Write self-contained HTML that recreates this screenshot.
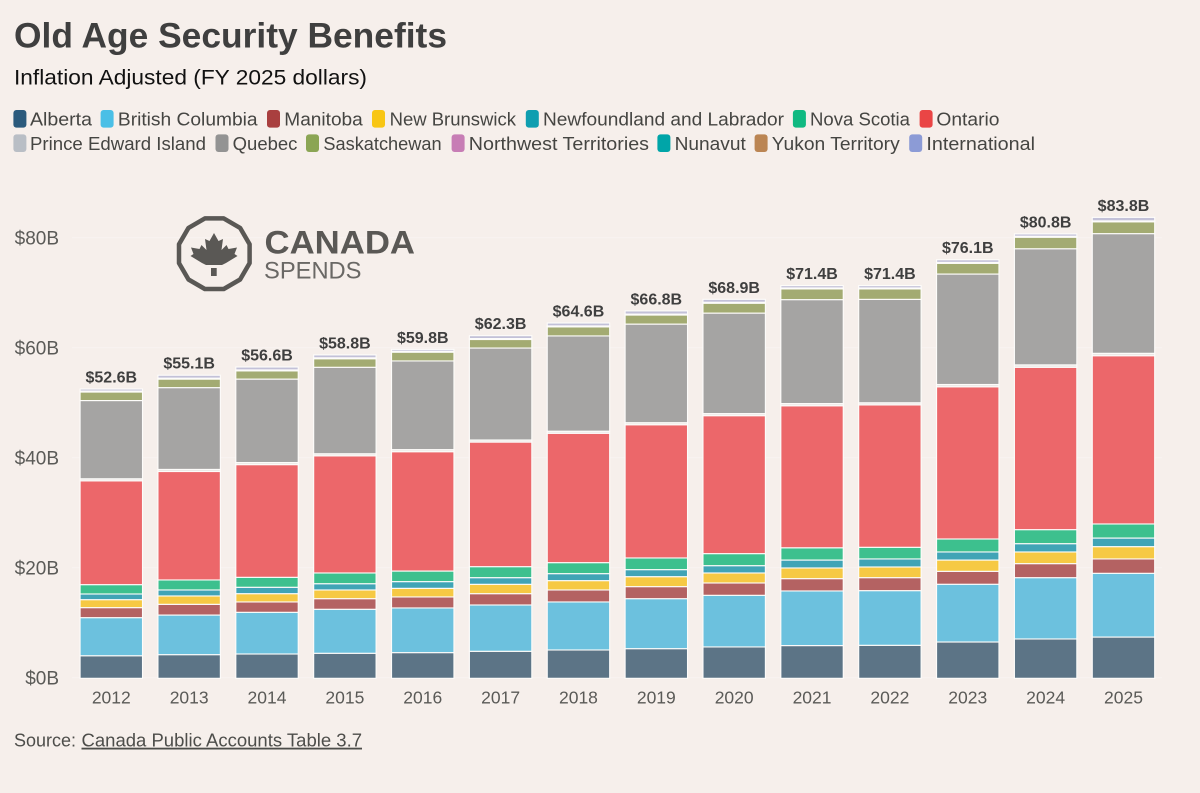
<!DOCTYPE html>
<html lang="en">
<head>
<meta charset="utf-8">
<title>Old Age Security Benefits</title>
<style>
html,body{margin:0;padding:0;background:#f6efeb;}
svg{display:block;font-family:"Liberation Sans",sans-serif;}
</style>
</head>
<body>
<svg id="chart" xmlns="http://www.w3.org/2000/svg" width="1200" height="793" viewBox="0 0 1200 793">
  <rect x="0" y="0" width="1200" height="793" fill="#f6efeb"/>
  <text x="14" y="47.5" font-size="35" font-weight="700" fill="#3f3f3f" textLength="433" lengthAdjust="spacingAndGlyphs">Old Age Security Benefits</text>
  <text x="14" y="84.7" font-size="21.5" fill="#111111" textLength="353" lengthAdjust="spacingAndGlyphs">Inflation Adjusted (FY 2025 dollars)</text>

  <g font-size="18" fill="#454542">
    <g><rect x="13.4" y="110" width="13" height="17.6" rx="3" fill="#2b5a7c"/><text x="30" y="125.3" textLength="62" lengthAdjust="spacingAndGlyphs">Alberta</text></g>
    <g><rect x="100.6" y="110" width="13" height="17.6" rx="3" fill="#4bbfe6"/><text x="117.9" y="125.3" textLength="139.7" lengthAdjust="spacingAndGlyphs">British Columbia</text></g>
    <g><rect x="267" y="110" width="13" height="17.6" rx="3" fill="#a93f3f"/><text x="284.3" y="125.3" textLength="78.5" lengthAdjust="spacingAndGlyphs">Manitoba</text></g>
    <g><rect x="372" y="110" width="13" height="17.6" rx="3" fill="#f8c614"/><text x="389.6" y="125.3" textLength="126.4" lengthAdjust="spacingAndGlyphs">New Brunswick</text></g>
    <g><rect x="525.8" y="110" width="13" height="17.6" rx="3" fill="#0f9eb0"/><text x="543" y="125.3" textLength="241" lengthAdjust="spacingAndGlyphs">Newfoundland and Labrador</text></g>
    <g><rect x="792.9" y="110" width="13" height="17.6" rx="3" fill="#10b981"/><text x="810" y="125.3" textLength="100" lengthAdjust="spacingAndGlyphs">Nova Scotia</text></g>
    <g><rect x="919.6" y="110" width="13" height="17.6" rx="3" fill="#ea4545"/><text x="936.4" y="125.3" textLength="63.1" lengthAdjust="spacingAndGlyphs">Ontario</text></g>
    <g><rect x="13.4" y="134.4" width="13" height="17.6" rx="3" fill="#b9bec5"/><text x="30" y="150" textLength="176" lengthAdjust="spacingAndGlyphs">Prince Edward Island</text></g>
    <g><rect x="215.5" y="134.4" width="13" height="17.6" rx="3" fill="#939393"/><text x="232.7" y="150" textLength="64.7" lengthAdjust="spacingAndGlyphs">Quebec</text></g>
    <g><rect x="306" y="134.4" width="13" height="17.6" rx="3" fill="#8ba554"/><text x="323.4" y="150" textLength="118.2" lengthAdjust="spacingAndGlyphs">Saskatchewan</text></g>
    <g><rect x="451.6" y="134.4" width="13" height="17.6" rx="3" fill="#c77db5"/><text x="468.8" y="150" textLength="180.2" lengthAdjust="spacingAndGlyphs">Northwest Territories</text></g>
    <g><rect x="657.4" y="134.4" width="13" height="17.6" rx="3" fill="#00a5a8"/><text x="674.6" y="150" textLength="71.2" lengthAdjust="spacingAndGlyphs">Nunavut</text></g>
    <g><rect x="754.6" y="134.4" width="13" height="17.6" rx="3" fill="#bb8553"/><text x="771.8" y="150" textLength="127.9" lengthAdjust="spacingAndGlyphs">Yukon Territory</text></g>
    <g><rect x="909.2" y="134.4" width="13" height="17.6" rx="3" fill="#8c9bd6"/><text x="926.4" y="150" textLength="108.6" lengthAdjust="spacingAndGlyphs">International</text></g>
  </g>

  <g id="grid"></g>

  <g fill="#5a5855">
    <polygon points="223.75,218.4 240.1,227.9 249.6,244.25 249.6,263.15 240.1,279.5 223.75,289 204.85,289 188.5,279.5 179,263.15 179,244.25 188.5,227.9 204.85,218.4" fill="none" stroke="#5a5855" stroke-width="4.5" stroke-linejoin="round"/>
    <path d="M214 233 L218.5 241 L223 239 L221.5 250 L226.5 245 L228.5 249 L237 247.5 L234.5 254 L237.5 256 L226 263 L222 265 L206 265 L202 263 L190.5 256 L193.5 254 L191 247.5 L199.5 249 L201.5 245 L206.5 250 L205 239 L209.5 241 Z"/>
    <rect x="211" y="268" width="5.7" height="8"/>
    <text x="264.5" y="253.3" font-size="32" font-weight="700" textLength="150.5" lengthAdjust="spacingAndGlyphs">CANADA</text>
    <text x="264" y="278.3" font-size="24" fill="#6a6865" textLength="97.5" lengthAdjust="spacingAndGlyphs">SPENDS</text>
  </g>

  <g id="bars"></g>
  <g id="ylabels"></g>
  <g id="xlabels"></g>
  <g id="totals"></g>

  <text x="14" y="746.7" font-size="18" fill="#4d4d4a" textLength="62" lengthAdjust="spacingAndGlyphs">Source:</text>
  <text x="81.5" y="746.7" font-size="18" fill="#4d4d4a" text-decoration="underline" textLength="280.5" lengthAdjust="spacingAndGlyphs">Canada Public Accounts Table 3.7</text>
</svg>

<script>
const years = ['2012','2013','2014','2015','2016','2017','2018','2019','2020','2021','2022','2023','2024','2025'];
const totalLabels = ['$52.6B','$55.1B','$56.6B','$58.8B','$59.8B','$62.3B','$64.6B','$66.8B','$68.9B','$71.4B','$71.4B','$76.1B','$80.8B','$83.8B'];
const yTicks = [0,20,40,60,80];
const yTickLabels = ['$0B','$20B','$40B','$60B','$80B'];

const alberta = [4.1,4.3,4.42,4.55,4.67,4.91,5.15,5.39,5.7,5.95,6.0,6.6,7.15,7.5];
const britishColumbia = [6.93,7.2,7.58,8.0,8.12,8.42,8.73,9.09,9.39,9.93,9.94,10.5,11.15,11.59];
const manitoba = [1.82,1.95,1.88,1.93,2.0,2.06,2.18,2.19,2.24,2.24,2.36,2.35,2.55,2.61];
const newBrunswick = [1.45,1.52,1.51,1.58,1.57,1.7,1.7,1.81,1.82,1.94,1.94,2.05,2.12,2.24];
const newfoundland = [1.03,1.09,1.16,1.14,1.22,1.21,1.27,1.28,1.33,1.44,1.46,1.47,1.51,1.56];
const novaScotia = [1.7,1.82,1.81,1.95,1.92,2.0,2.0,2.12,2.19,2.23,2.12,2.36,2.55,2.56];
const ontario = [18.87,19.72,20.49,21.3,21.7,22.65,23.52,24.22,25.08,25.82,25.88,27.67,29.52,30.59];
const princeEdward = [0.38,0.38,0.38,0.38,0.38,0.38,0.38,0.38,0.38,0.4,0.4,0.42,0.44,0.44];
const quebec = [14.22,14.87,15.17,15.72,16.12,16.72,17.32,17.92,18.27,18.9,18.8,20.08,21.11,21.76];
const saskatchewan = [1.55,1.55,1.5,1.55,1.6,1.55,1.65,1.65,1.8,1.95,1.9,1.95,2.1,2.15];
const northwest = [0.07,0.07,0.07,0.07,0.07,0.07,0.07,0.07,0.07,0.07,0.07,0.07,0.07,0.07];
const nunavut = [0.05,0.05,0.05,0.05,0.05,0.05,0.05,0.05,0.05,0.05,0.05,0.05,0.05,0.05];
const yukon = [0.05,0.05,0.05,0.05,0.05,0.05,0.05,0.05,0.05,0.05,0.05,0.05,0.05,0.05];
const international = [0.38,0.53,0.53,0.53,0.33,0.53,0.53,0.58,0.53,0.43,0.43,0.48,0.43,0.63];

const seriesValues = [alberta,britishColumbia,manitoba,newBrunswick,newfoundland,novaScotia,ontario,princeEdward,quebec,saskatchewan,northwest,nunavut,yukon,international];
const seriesNames = ['alberta','british-columbia','manitoba','new-brunswick','newfoundland-and-labrador','nova-scotia','ontario','prince-edward-island','quebec','saskatchewan','northwest-territories','nunavut','yukon-territory','international'];
const seriesColors = ['#5c7486','#6cc1de','#b46262','#f6c944','#40a4b6','#3dc08e','#ec676a','#ece9e6','#a5a4a3','#a3ab72','#ece6ea','#e6eeee','#eee8e2','#c3c1d8'];

const NS = 'http://www.w3.org/2000/svg';
const yScale = v => 678.3 - v * 5.5;
const xCenter = i => 111.3 + i * 77.86;
const barWidth = 62.4;

const grid = document.getElementById('grid');
const ylabels = document.getElementById('ylabels');
yTicks.forEach((t, i) => {
  const line = document.createElementNS(NS, 'line');
  
  
  line.setAttribute('x1', 72);
  line.setAttribute('x2', 1162);
  line.setAttribute('y1', yScale(t) - 0.6);
  line.setAttribute('y2', yScale(t) - 0.6);
  line.setAttribute('stroke', '#f8f4f1');
  line.setAttribute('stroke-width', 1);
  grid.appendChild(line);

  const label = document.createElementNS(NS, 'text');
  
  
  label.setAttribute('x', 59);
  label.setAttribute('y', yScale(t) + 6);
  label.setAttribute('text-anchor', 'end');
  label.setAttribute('font-size', '19');
  label.setAttribute('fill', '#5a5a57');
  label.textContent = yTickLabels[i];
  ylabels.appendChild(label);
});

const bars = document.getElementById('bars');
const xlabels = document.getElementById('xlabels');
const totals = document.getElementById('totals');
years.forEach((year, i) => {
  let cumulative = 0;
  seriesValues.forEach((series, s) => {
    const value = series[i];
    const rect = document.createElementNS(NS, 'rect');
    
    
    rect.setAttribute('x', xCenter(i) - barWidth / 2);
    rect.setAttribute('y', yScale(cumulative + value));
    rect.setAttribute('width', barWidth);
    rect.setAttribute('height', value * 5.5);
    rect.setAttribute('fill', seriesColors[s]);
    rect.setAttribute('stroke', '#fdfcfa');
    rect.setAttribute('stroke-width', '1.1');
    bars.appendChild(rect);
    cumulative += value;
  });

  const total = document.createElementNS(NS, 'text');
  
  
  total.setAttribute('x', xCenter(i));
  total.setAttribute('y', yScale(cumulative) - 6.6);
  total.setAttribute('text-anchor', 'middle');
  total.setAttribute('font-size', '16');
  total.setAttribute('font-weight', '700');
  total.setAttribute('fill', '#3f3f3f');
  total.textContent = totalLabels[i];
  totals.appendChild(total);

  const label = document.createElementNS(NS, 'text');
  
  
  label.setAttribute('x', xCenter(i));
  label.setAttribute('y', 703.3);
  label.setAttribute('text-anchor', 'middle');
  label.setAttribute('font-size', '17.5');
  label.setAttribute('fill', '#5a5a57');
  label.textContent = year;
  xlabels.appendChild(label);
});
</script>
</body>
</html>
